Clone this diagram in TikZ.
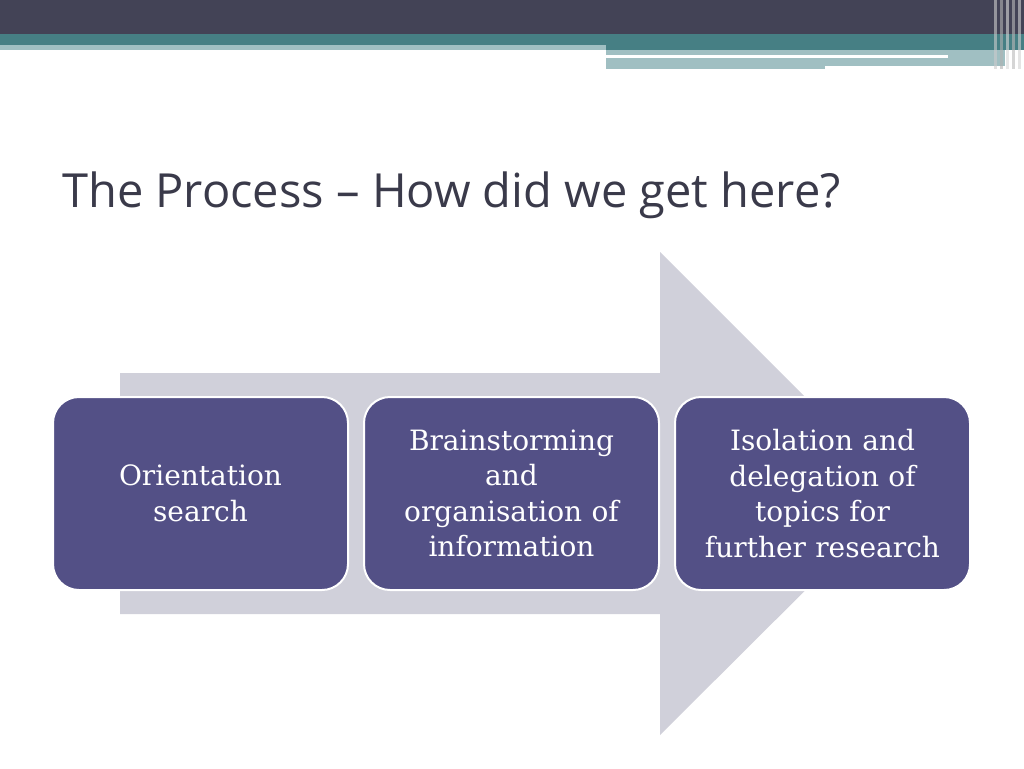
\documentclass[tikz,border=0pt]{standalone}
\usepackage{fontspec}
\setmainfont{DejaVu Serif}
\newfontfamily\titlefont{Open Sans}
\definecolor{dark}{HTML}{434356}
\definecolor{teal}{HTML}{467F84}
\definecolor{lteal}{HTML}{A0BFC2}
\definecolor{arrowc}{HTML}{D0D0DA}
\definecolor{boxc}{HTML}{535086}
\definecolor{titlec}{HTML}{3A3A4A}
\begin{document}
\begin{tikzpicture}[x=1pt,y=-1pt,
  stepbox/.style={draw=white,line width=2pt,fill=boxc,rounded corners=26pt,minimum width=295pt,minimum height=193pt,text=white,font=\fontsize{28}{35.5}\selectfont,align=center,text width=290pt,inner sep=0pt}]
\useasboundingbox (0,0) rectangle (1024,768);
\fill[white] (0,0) rectangle (1024,768);
\fill[dark] (0,0) rectangle (1024,34);
\fill[teal] (0,34) rectangle (1024,50);
\fill[lteal] (0,45) rectangle (606,50);
\fill[lteal] (606,50) rectangle (1005,66);
\fill[lteal] (606,66) rectangle (825,69);
\fill[white] (606,55) rectangle (948,58);
\foreach \x/\c in {994/gray!40,1000/gray!60,1006/gray!30,1012/gray!55,1018/gray!35}
  \fill[\c,opacity=0.6] (\x,0) rectangle (\x+3,69);
\node[anchor=base west,text=titlec,font=\titlefont\fontsize{47}{52}\selectfont,inner sep=0pt] (title) at (62,207) {The Process – How did we get here?};
\fill[arrowc] (120,373) -- (660,373) -- (660,252) -- (902,494) -- (660,735) -- (660,614) -- (120,614) -- cycle;
\node[stepbox] (b1) at (200.5,493.5) {Orientation\\search};
\node[stepbox] (b2) at (511.5,493.5) {Brainstorming\\and\\organisation of\\information};
\node[stepbox] (b3) at (822.5,493.5) {Isolation and\\delegation of\\topics for\\further research};
\end{tikzpicture}
\end{document}
